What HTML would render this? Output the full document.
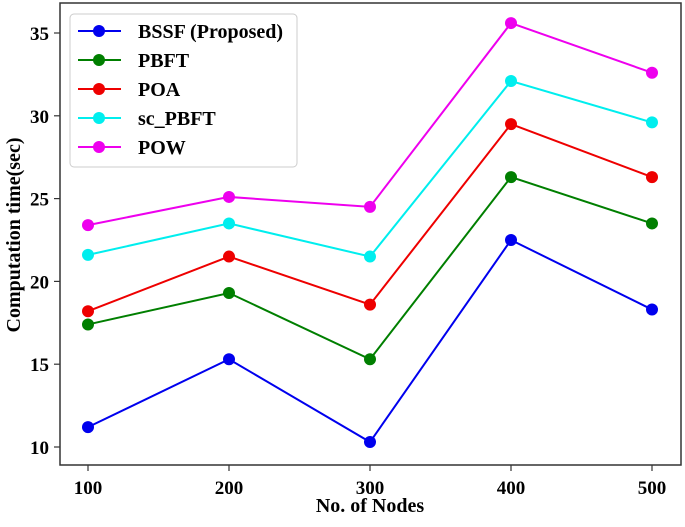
<!DOCTYPE html>
<html><head><meta charset="utf-8"><style>
body{margin:0;background:#fff}
svg text{font-family:"Liberation Serif",serif;font-weight:bold;fill:#000}
</style></head><body>
<svg id="chart" width="685" height="522" xmlns="http://www.w3.org/2000/svg">
<rect x="60" y="3" width="621" height="462" fill="none" stroke="#333" stroke-width="1.5"/>
<g id="xt"></g><g id="yt"></g><g id="series"></g><g id="legend"></g>
<text x="370" y="512" font-size="20" text-anchor="middle">No. of Nodes</text>
<text transform="translate(20,235) rotate(-90)" font-size="20" text-anchor="middle">Computation time(sec)</text>
</svg>
<script>
const categories=[100,200,300,400,500];
const yTicks=[10,15,20,25,30,35];
const seriesNames=["BSSF (Proposed)","PBFT","POA","sc_PBFT","POW"];
const seriesColors=["#0000ee","#007f00","#ee0000","#00eeee","#ee00ee"];
const bssf=[11.2,15.3,10.3,22.5,18.3];
const pbft=[17.4,19.3,15.3,26.3,23.5];
const poa=[18.2,21.5,18.6,29.5,26.3];
const scpbft=[21.6,23.5,21.5,32.1,29.6];
const pow=[23.4,25.1,24.5,35.6,32.6];
const allSeries=[bssf,pbft,poa,scpbft,pow];
const NS="http://www.w3.org/2000/svg";
const xs=v=>88+(v-100)*1.41;
const ys=v=>447-(v-10)*16.56;
function mk(tag,attrs,parent){const e=document.createElementNS(NS,tag);for(const k in attrs)e.setAttribute(k,attrs[k]);parent.appendChild(e);return e;}
const xt=document.getElementById('xt'),yt=document.getElementById('yt'),sg=document.getElementById('series'),lg=document.getElementById('legend');
categories.forEach(c=>{
  const l=mk('line',{x1:xs(c),x2:xs(c),y1:465,y2:471,stroke:'#333','stroke-width':1.2},xt);
  
  
  const t=mk('text',{x:xs(c),y:494,'font-size':19,'text-anchor':'middle'},xt);t.textContent=c;
  
  
});
yTicks.forEach(v=>{
  const l=mk('line',{x1:54,x2:60,y1:ys(v),y2:ys(v),stroke:'#333','stroke-width':1.2},yt);
  
  
  const t=mk('text',{x:49,y:ys(v)+7,'font-size':19,'text-anchor':'end'},yt);t.textContent=v;
  
  
});
allSeries.forEach((d,i)=>{
  const g=mk('g',{},sg);
  
  
  const p=mk('polyline',{points:d.map((v,j)=>xs(categories[j])+','+ys(v)).join(' '),fill:'none',stroke:seriesColors[i],'stroke-width':2},g);
  
  
  d.forEach((v,j)=>{
    const c=mk('circle',{cx:xs(categories[j]),cy:ys(v),r:6,fill:seriesColors[i]},g);
    
    
  });
});
const box=mk('rect',{x:70,y:14,width:227,height:153,rx:4,fill:'#fff',stroke:'#ccc','stroke-width':1},lg);


seriesNames.forEach((n,i)=>{
  const y=31+i*29;
  const g=mk('g',{},lg);
  
  
  mk('line',{x1:78,x2:121,y1:y,y2:y,stroke:seriesColors[i],'stroke-width':2},g);
  mk('circle',{cx:99,cy:y,r:6,fill:seriesColors[i]},g);
  const t=mk('text',{x:138,y:y+7,'font-size':20},g);t.textContent=n;
});
</script>
</body></html>
